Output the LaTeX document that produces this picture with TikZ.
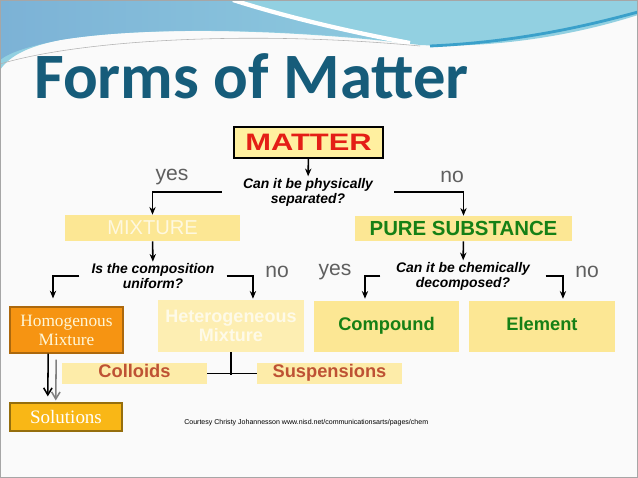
\documentclass[tikz,border=0pt]{standalone}
\usepackage{fontspec}
\setmainfont{Liberation Sans}
\newfontfamily\titlefont{Carlito}
\newfontfamily\slidefont{Liberation Serif}
\usetikzlibrary{arrows.meta, positioning}

\definecolor{titleblue}{RGB}{22,92,122}
\definecolor{boxyellow}{RGB}{252,231,148}
\definecolor{paleyellow}{RGB}{253,238,178}
\definecolor{matteryellow}{RGB}{255,240,160}
\definecolor{matterred}{RGB}{228,30,22}
\definecolor{leafgreen}{RGB}{22,128,22}
\definecolor{brickred}{RGB}{190,82,52}
\definecolor{answergrey}{RGB}{95,95,95}
\definecolor{homorange}{RGB}{246,148,18}
\definecolor{solorange}{RGB}{249,183,22}
\definecolor{wavecyan}{RGB}{146,208,225}
\definecolor{waveblue}{RGB}{124,178,214}
\definecolor{wavedark}{RGB}{58,160,202}

\begin{document}
\begin{tikzpicture}[
    x=0.025cm, y=-0.025cm,
    >={Stealth[length=5.5pt,width=4.5pt]},
    tile/.style = {rectangle, inner sep=0pt, align=center, fill=boxyellow, font=\fontsize{13pt}{15pt}\selectfont\bfseries},
    flat/.style = {text height=.72em, text depth=.22em},
    slidebox/.style = {rectangle, inner sep=0pt, align=center, draw, line width=0.8pt, font=\slidefont},
    question/.style = {align=center, inner ysep=1pt, font=\fontsize{9.9pt}{10.7pt}\selectfont\bfseries\itshape},
    answer/.style = {text=answergrey, font=\fontsize{15pt}{17pt}\selectfont},
    link/.style = {draw, line width=1.1pt}]

    % slide background and wave
    \useasboundingbox (0,0) rectangle (638,478);
    \fill[white!98!black] (0,0) rectangle (638,478);
    \fill[wavecyan] (0,0) -- (638,0) -- (638,15) .. controls (560,40) and (480,48) .. (420,45)
        .. controls (300,30) and (150,25) .. (60,40) .. controls (30,46) and (10,55) .. (0,70) -- cycle;
    \shade[left color=waveblue, right color=wavecyan!80!waveblue] (0,0) -- (233,0) .. controls (280,15) and (340,30) .. (400,42)
        .. controls (300,30) and (150,25) .. (60,40) .. controls (30,46) and (10,52) .. (0,60) -- cycle;
    \draw[white, line width=3pt] (233,0) .. controls (280,15) and (340,30) .. (410,43);
    \draw[wavedark, line width=2pt] (430,46) .. controls (520,42) and (590,25) .. (638,12);
    \draw[gray!60, line width=0.4pt] (0,64) .. controls (80,40) and (250,30) .. (420,46);
    \draw[gray!70, line width=1.2pt] (0,0) rectangle (638,478);

    \node[anchor=base west, inner sep=0pt, text=titleblue, font=\fontsize{46pt}{50pt}\selectfont\titlefont\bfseries] (title) at (34,99) {Forms of Matter};

    % boxes
    \node[tile, fill=matteryellow, draw, line width=1.2pt, minimum width=3.725cm, minimum height=0.775cm, text=matterred,
          font=\fontsize{16.9pt}{18pt}\selectfont\bfseries] (matter) at (308.5,142.5) {\scalebox{1.3}[1]{MATTER}};
    \node[tile, minimum width=4.375cm, minimum height=0.65cm, text=paleyellow!40!white, font=\fontsize{14.3pt}{16pt}\selectfont] (mixture) at (152.5,228) {MIXTURE};
    \node[tile, minimum width=5.425cm, minimum height=0.625cm, text=leafgreen, font=\fontsize{14.5pt}{16pt}\selectfont\bfseries] (pure) at (463.5,228.5) {PURE SUBSTANCE};
    \node[slidebox, fill=homorange, draw=homorange!70!black, text=paleyellow!50!white, minimum width=2.825cm, minimum height=1.15cm,
          font=\fontsize{12.3pt}{13.5pt}\selectfont\slidefont] (homog) at (66.5,330) {Homogenous\\Mixture};
    \node[tile, fill=paleyellow, minimum width=3.65cm, minimum height=1.3cm, text=paleyellow!30!white,
          font=\fontsize{12.8pt}{13pt}\selectfont\bfseries] (hetero) at (231,326) {Heterogeneous\\Mixture};
    \node[tile, flat, minimum width=3.625cm, minimum height=1.275cm, text=leafgreen] (compound) at (386.5,326.5) {Compound};
    \node[tile, flat, minimum width=3.65cm, minimum height=1.275cm, text=leafgreen] (element) at (542,326.5) {Element};
    \node[tile, flat, fill=boxyellow!80!white, minimum width=3.625cm, minimum height=0.525cm, text=brickred] (colloids) at (134.5,373.5) {Colloids};
    \node[tile, flat, fill=boxyellow!80!white, minimum width=3.625cm, minimum height=0.525cm, text=brickred] (suspensions) at (329.5,373.5) {Suspensions};
    \node[slidebox, fill=solorange, draw=solorange!60!black, text=white, minimum width=2.8cm, minimum height=0.7cm,
          font=\fontsize{13.5pt}{15pt}\selectfont\slidefont] (solutions) at (66,417) {Solutions};

    % questions and answers
    \node[question, inner xsep=15pt] (q1) at (308,192) {Can it be physically\\separated?};
    \node[question, inner xsep=8.5pt] (q2) at (153,276) {Is the composition\\uniform?};
    \node[question, inner xsep=11pt] (q3) at (463,276) {Can it be chemically\\decomposed?};
    \node[answer] (yes1) at (172,177) {yes};
    \node[answer] (no1) at (452,177) {no};
    \node[answer] (no2) at (277,272) {no};
    \node[answer] (yes3) at (335,272) {yes};
    \node[answer] (no3) at (587,272) {no};

    \coordinate (split) at (231,375);

    % connectors
    \draw[link, ->] (matter) -- (q1);
    \draw[link, ->] (q1.west) -| (mixture.north);
    \draw[link, ->] (q1.east) -| (pure.north);
    \draw[link, ->] (mixture) -- (q2);
    \draw[link, ->] (pure) -- (q3);
    \draw[link, ->, shorten >=5.7pt] (q2.west) -| ([xshift=-9.6pt]homog.north);
    \draw[link, ->, shorten >=0.7pt] (q2.east) -| ([xshift=15.6pt]hetero.north);
    \draw[link, ->, shorten >=1.4pt] (q3.west) -| ([xshift=-15.3pt]compound.north);
    \draw[link, ->, shorten >=1.4pt] (q3.east) -| ([xshift=14.9pt]element.north);
    \draw[link] (hetero) -- (split);
    \draw[link] (colloids) -- (suspensions);
    \draw[link, -{Straight Barb[length=5pt,width=6pt]}, shorten >=4.3pt] ([xshift=-13pt]homog.south) -- ([xshift=-13pt]solutions.north);
    \draw[link, gray, -{Straight Barb[length=5pt,width=6pt]}, shorten <=4.3pt, shorten >=1.4pt] ([xshift=-7.3pt]homog.south) -- ([xshift=-7.3pt]solutions.north);

    \node[anchor=west, inner sep=0pt, font=\fontsize{5pt}{6pt}\selectfont] (credit) at (184,423) {Courtesy Christy Johannesson www.nisd.net/communicationsarts/pages/chem};
\end{tikzpicture}
\end{document}
